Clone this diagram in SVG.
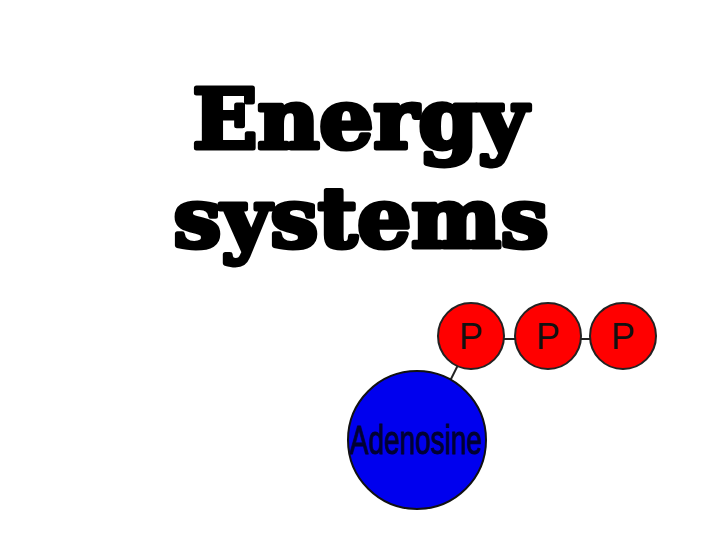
<svg xmlns="http://www.w3.org/2000/svg" width="720" height="540" viewBox="0 0 720 540">
<style>
.t{font-family:"DejaVu Serif","Liberation Serif",serif;font-weight:bold;font-size:82px;fill:#000;stroke:#000;stroke-width:5;stroke-linejoin:round;text-anchor:middle}
.p{fill:#f00;stroke:#222;stroke-width:2}
.pl{font-family:"Liberation Sans",Arial,sans-serif;font-size:36px;fill:#111;text-anchor:middle}
</style>
<rect width="720" height="540" fill="#fff"/>
<text class="t" x="360" y="148" textLength="335" lengthAdjust="spacingAndGlyphs">Energy</text>
<text class="t" x="361" y="247" textLength="375" lengthAdjust="spacingAndGlyphs">systems</text>
<g id="connectors" stroke="#222" stroke-width="2">
<line x1="449" y1="383" x2="459" y2="363"/>
<line x1="504" y1="339" x2="515" y2="339"/>
<line x1="581" y1="339" x2="590" y2="339"/>
</g>
<g id="adenosine">
<circle cx="417" cy="440" r="69" fill="#0000ee" stroke="#111" stroke-width="2"/>
<text x="416" y="454" font-family="Liberation Sans Narrow,Liberation Sans,Arial,sans-serif" font-size="40" fill="#000033" stroke="#000033" stroke-width="1" text-anchor="middle" textLength="132" lengthAdjust="spacingAndGlyphs">Adenosine</text>
</g>
<g id="p1"><circle class="p" cx="471" cy="336" r="33"/><text class="pl" x="471" y="349">P</text></g>
<g id="p2"><circle class="p" cx="548" cy="336" r="33"/><text class="pl" x="548" y="349">P</text></g>
<g id="p3"><circle class="p" cx="623" cy="336" r="33"/><text class="pl" x="623" y="349">P</text></g>
</svg>
